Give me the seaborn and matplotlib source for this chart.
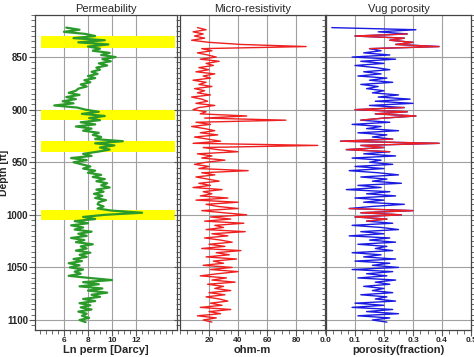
import numpy as np
import matplotlib
matplotlib.use("Agg")
import matplotlib.pyplot as plt
from matplotlib.ticker import MultipleLocator
import seaborn as sns

# ---- log data (2 ft sampling) ----
depth = np.arange(822, 1103, 2)

perm = [6.2, 7.3, 6.0, 7.8,
        8.6, 6.8, 9.4, 7.2, 9.7, 8.0,
        9.0, 8.4, 9.8, 9.1, 10.3,
        9.2, 9.9, 8.9, 9.6, 8.7,
        9.0, 8.3, 8.8, 8.0, 8.6,
        7.7, 8.2, 7.4, 7.9, 7.2,
        7.0, 6.4, 7.3, 6.2, 7.0,
        5.9, 6.8, 5.2, 7.1,
        7.8, 8.9, 7.5, 9.4, 8.1, 9.0,
        7.4, 8.6, 7.0, 8.3, 7.6,
        8.9, 8.4, 9.1, 8.6,
        10.9, 8.6, 10.2, 9.0, 9.8, 8.8,
        7.6, 8.3, 6.6, 7.9, 6.8,
        7.5, 8.2, 7.6, 8.6, 8.0,
        9.1, 8.4, 9.4, 8.7, 9.6,
        9.1, 9.8, 8.7, 9.3, 8.5,
        9.2, 8.6, 9.5, 8.9, 8.8,
        9.3, 8.8, 10.0, 12.5,
        9.4, 7.6, 8.6, 6.9,
        8.0, 6.6, 7.6, 6.9, 8.3,
        7.2, 7.9, 6.6, 7.7, 7.0,
        8.4, 7.4, 7.9, 7.0, 8.2,
        7.3, 7.9, 6.8, 7.5, 6.4,
        7.3, 6.5, 7.6, 6.9, 7.4,
        6.4, 8.1, 10.0, 7.6, 8.9,
        7.3, 9.2, 8.0, 9.6, 8.3,
        9.0, 7.6, 8.6, 7.3, 8.2,
        7.4, 8.3, 7.2, 7.9, 7.5,
        8.1, 7.3, 7.8]

resist = [12, 18, 9, 16,
          10, 17, 8, 20, 42, 87,
          15, 22, 12, 19, 25,
          14, 27, 18, 23, 13,
          20, 11, 24, 16, 21,
          9, 18, 13, 22, 10,
          17, 12, 21, 8, 15,
          19, 11, 24, 13,
          9, 18, 14, 46, 17, 73,
          11, 21, 8, 17, 24,
          14, 26, 10, 19,
          28, 9, 95, 16, 26, 40,
          12, 22, 15, 31, 18,
          10, 20, 13, 47, 15,
          24, 11, 19, 27, 13,
          21, 9, 29, 16, 22,
          14, 33, 11, 40, 18,
          26, 40, 15, 30,
          46, 21, 35, 17,
          44, 24, 30, 18, 45,
          22, 33, 17, 28, 36,
          20, 31, 15, 42, 25,
          34, 18, 39, 23, 30,
          16, 36, 21, 40, 26,
          14, 32, 22, 38, 19,
          30, 24, 35, 20, 31,
          18, 27, 33, 21, 29,
          14, 35, 20, 28, 12,
          25, 16, 22]

vug = [0.02, 0.31, 0.18, 0.28,
       0.10, 0.27, 0.22, 0.30, 0.24, 0.39,
       0.15, 0.19, 0.13, 0.22, 0.09,
       0.24, 0.12, 0.20, 0.10, 0.17,
       0.22, 0.13, 0.19, 0.11, 0.21,
       0.15, 0.23, 0.12, 0.18, 0.14,
       0.20, 0.16, 0.25, 0.18, 0.29,
       0.17, 0.30, 0.15, 0.27,
       0.10, 0.28, 0.17, 0.31, 0.20, 0.12,
       0.22, 0.09, 0.19, 0.14, 0.25,
       0.11, 0.21, 0.16, 0.23,
       0.05, 0.39, 0.12, 0.20, 0.07, 0.22,
       0.13, 0.24, 0.09, 0.19, 0.15,
       0.23, 0.10, 0.20, 0.08, 0.18,
       0.25, 0.12, 0.21, 0.16, 0.26,
       0.11, 0.19, 0.07, 0.22, 0.14,
       0.24, 0.10, 0.20, 0.13, 0.27,
       0.16, 0.08, 0.30, 0.12,
       0.26, 0.10, 0.21, 0.14,
       0.23, 0.09, 0.19, 0.25, 0.12,
       0.20, 0.08, 0.22, 0.15, 0.24,
       0.11, 0.21, 0.17, 0.23, 0.09,
       0.19, 0.13, 0.24, 0.10, 0.22,
       0.16, 0.25, 0.09, 0.23, 0.14,
       0.21, 0.11, 0.24, 0.17, 0.22,
       0.13, 0.20, 0.16, 0.23, 0.12,
       0.21, 0.17, 0.24, 0.10, 0.20,
       0.09, 0.23, 0.14, 0.25, 0.11,
       0.22, 0.16, 0.21]

# highlighted (vuggy) intervals, ft
bands = [(830, 841), (900, 910), (930, 940), (995, 1005)]

titles = ["Permeability", "Micro-resistivity", "Vug porosity"]
xlabels = ["Ln perm [Darcy]", "ohm-m", "porosity(fraction)"]

# ---- style ----
sns.set_style("white")
plt.rcParams['font.family'] = ['Liberation Sans', 'DejaVu Sans']

fig = plt.figure(figsize=(4.74, 3.57), dpi=100)
bottom = 1 - 330 / 357
height = 315 / 357
ax1 = fig.add_axes([35 / 474, bottom, 142 / 474, height])
ax2 = fig.add_axes([180 / 474, bottom, 145 / 474, height])
ax3 = fig.add_axes([326 / 474, bottom, 145 / 474, height])
axes = [ax1, ax2, ax3]

# Permeability track with yellow bands
for lo, hi in bands:
    ax1.fill_betweenx([lo, hi], 4.1, 15.2, color="#ffff00", lw=0, zorder=1)
sns.lineplot(x=perm, y=depth, orient="y", estimator=None, sort=False,
             color="#2a9a2a", lw=1.6, ax=ax1, zorder=3)

# Micro-resistivity
sns.lineplot(x=resist, y=depth, orient="y", estimator=None, sort=False,
             color="#ee2020", lw=1.0, ax=ax2, zorder=3)

# Vug porosity, red inside the bands
sns.lineplot(x=vug, y=depth, orient="y", estimator=None, sort=False,
             color="#1a1ae0", lw=1.0, ax=ax3, zorder=3)
vug_arr = np.array(vug)
for lo, hi in bands:
    sel = (depth >= lo - 2) & (depth <= hi + 1)
    sns.lineplot(x=vug_arr[sel], y=depth[sel], orient="y", estimator=None,
                 sort=False, color="#ee2020", lw=1.0, ax=ax3, zorder=4)

ax1.set_xlim(3.6, 15.4)
ax1.set_xticks([6, 8, 10, 12])
ax1.xaxis.set_minor_locator(MultipleLocator(0.5))
ax2.set_xlim(0, 100)
ax2.set_xticks([20, 40, 60, 80])
ax2.xaxis.set_minor_locator(MultipleLocator(5))
ax3.set_xlim(0, 0.5)
ax3.set_xticks([0.0, 0.1, 0.2, 0.3, 0.4, 0.5])
ax3.set_xticklabels(["0.0", "0.1", "0.2", "0.3", "0.4", "0.5"])
ax3.xaxis.set_minor_locator(MultipleLocator(0.025))

for i, ax in enumerate(axes):
    ax.set_ylim(1109.5, 810)
    ax.set_yticks([850, 900, 950, 1000, 1050, 1100])
    ax.yaxis.set_minor_locator(MultipleLocator(5))
    ax.set_axisbelow(True)
    ax.grid(True, which="major", color="#a0a0a0", lw=0.8)
    ax.set_title(titles[i], fontsize=8, pad=2)
    ax.set_xlabel(xlabels[i], fontsize=8, fontweight="bold", labelpad=1)
    ax.set_ylabel("")
    ax.tick_params(axis="both", which="both", left=True, right=True,
                   bottom=True, direction="out", color="#555555")
    ax.tick_params(axis="both", which="major", length=4, width=0.8, pad=1)
    ax.tick_params(axis="both", which="minor", length=3, width=0.6)
    ax.tick_params(axis="x", labelsize=6)
    ax.tick_params(axis="y", labelsize=7, labelleft=(i == 0))
    for lab in ax.get_xticklabels() + ax.get_yticklabels():
        lab.set_fontweight("bold")
    for sp in ax.spines.values():
        sp.set_color("#444444")
        sp.set_linewidth(0.9)

ax1.set_ylabel("Depth [ft]", fontsize=7.5, fontweight="bold")
ax1.yaxis.set_label_coords(-0.18, 0.5)

fig.savefig("out.png", dpi=100)
